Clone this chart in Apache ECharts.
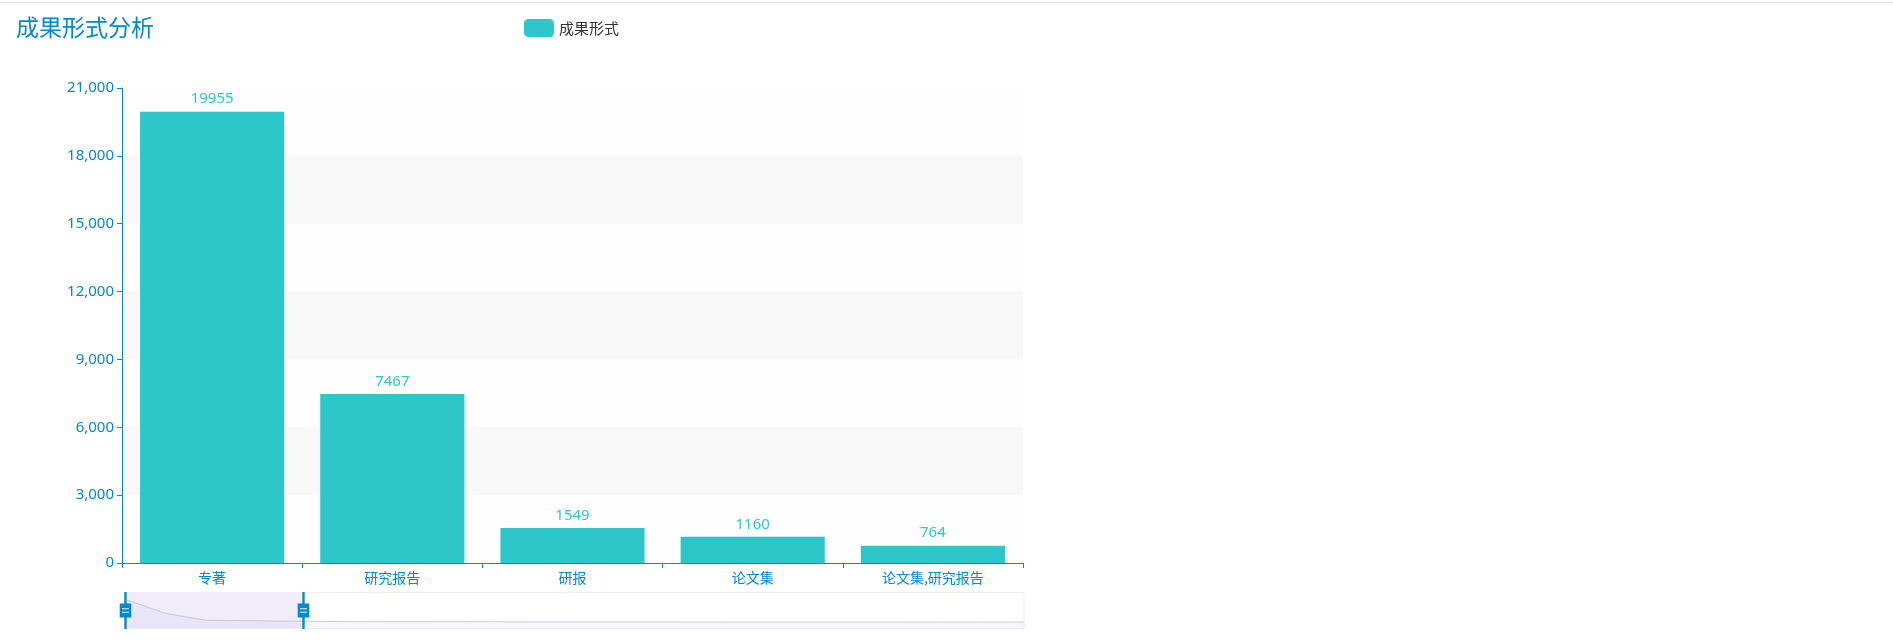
<!DOCTYPE html>
<html>
<head>
<meta charset="utf-8">
<script src="https://cdn.jsdelivr.net/npm/echarts@6/dist/echarts.min.js"></script>
<style>
html,body{margin:0;padding:0;background:#fff;}
#chart{width:1893px;height:642px;}
</style>
</head>
<body>
<div id="chart"></div>
<script>
var titleText = '成果形式分析';
var seriesName = '成果形式';
var categories = ['专著', '研究报告', '研报', '论文集', '论文集,研究报告',
  '工具书', '译著', '专著,研究报告', '论文', '古籍整理', '其他', '专著,论文集',
  '工具书,研究报告', '电脑软件', '译著,研究报告', '数据库', '研究报告,专著',
  '论文集,专著', '教材', '普及读物', '调研报告', '咨询报告', '专著,工具书'];
var values = [19955, 7467, 1549, 1160, 764,
  498, 312, 256, 189, 143, 121, 98,
  77, 64, 52, 41, 33,
  27, 21, 16, 12, 8, 5];
var yTicks = {min: 0, max: 21000, interval: 3000};

var chart = echarts.init(document.getElementById('chart'), null, {renderer: 'canvas'});
var blue = '#008acd';
var teal = '#2ec7c9';
var handlePath = 'path://M4,0 L6,0 L6,10 L10,10 L10,22 L6,22 L6,32 L4,32 L4,22 L0,22 L0,10 L4,10 Z M2,14 L2,15 L8,15 L8,14 Z M2,17 L2,18 L8,18 L8,17 Z';
chart.setOption({
  animation: false,
  backgroundColor: '#fff',
  graphic: [{
    type: 'rect', left: 0, top: 2, shape: {width: 1893, height: 1},
    style: {fill: '#e3e3e3'}, silent: true
  }],
  title: {
    text: titleText, left: 16, top: 16, padding: 0,
    textStyle: {color: blue, fontSize: 23, fontWeight: 'normal', fontFamily: 'Noto Sans CJK SC'}
  },
  legend: {
    data: [seriesName], left: 524, top: 19, padding: 0,
    itemWidth: 30, itemHeight: 18, itemGap: 10,
    icon: 'roundRect',
    textStyle: {color: '#333', fontSize: 15, fontFamily: 'Noto Sans CJK SC'}
  },
  grid: {left: 122, right: 870, top: 88, bottom: 79, containLabel: false},
  xAxis: {
    type: 'category', data: categories,
    axisLine: {show: true, lineStyle: {color: blue, width: 1}},
    axisTick: {show: true, alignWithLabel: false, lineStyle: {color: blue}},
    axisLabel: {color: blue, fontSize: 14, margin: 8, interval: 0, fontFamily: 'Noto Sans CJK SC'},
    splitLine: {show: false}
  },
  yAxis: {
    type: 'value', min: yTicks.min, max: yTicks.max, interval: yTicks.interval,
    axisLine: {show: true, lineStyle: {color: blue, width: 1}},
    axisTick: {show: true, length: 5, lineStyle: {color: blue}},
    axisLabel: {color: blue, fontSize: 15, margin: 8, fontFamily: 'Noto Sans',
      formatter: function (v) { return v.toLocaleString('en-US'); }},
    splitLine: {show: false},
    splitArea: {show: true, areaStyle: {color: ['rgba(250,250,250,0.1)', 'rgba(200,200,200,0.12)']}}
  },
  dataZoom: [{
    type: 'slider', xAxisIndex: 0, start: 0, end: 20, filterMode: 'filter',
    left: 122, right: 871, top: 592, height: 37,
    backgroundColor: 'rgba(0,0,0,0)',
    borderColor: '#ecebfb',
    fillerColor: 'rgba(182,162,222,0.2)',
    dataBackground: {
      lineStyle: {color: '#cfcbdd', width: 1, opacity: 1},
      areaStyle: {color: '#efefff', opacity: 0.5}
    },
    selectedDataBackground: {
      lineStyle: {color: '#cfcbdd', width: 1, opacity: 1},
      areaStyle: {color: '#efefff', opacity: 0.5}
    },
    handleIcon: handlePath,
    handleSize: '100%',
    handleStyle: {color: blue, borderColor: blue, borderWidth: 0},
    moveHandleSize: 0,
    showDetail: false,
    brushSelect: false,
    emphasis: {handleStyle: {color: blue, borderColor: blue}}
  }],
  series: [{
    name: seriesName, type: 'bar', data: values,
    barCategoryGap: '20%',
    itemStyle: {color: teal},
    label: {show: true, position: 'top', color: teal, fontSize: 15, distance: 5, fontFamily: 'Noto Sans'}
  }]
});
</script>
</body>
</html>
